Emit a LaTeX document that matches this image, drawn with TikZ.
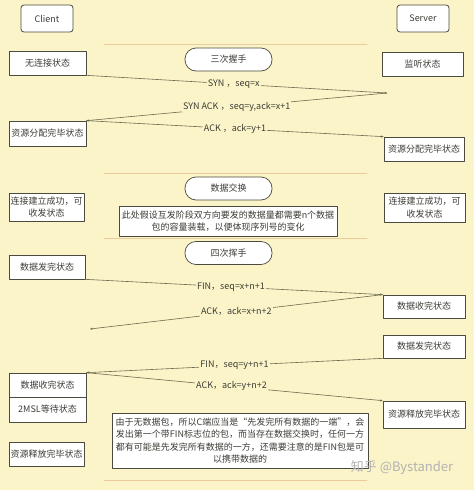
\documentclass[tikz,border=0pt]{standalone}
\usepackage{fontspec}
\setmainfont{Noto Sans CJK SC}
\usetikzlibrary{arrows.meta}
\definecolor{bg}{HTML}{FBF4C8}
\definecolor{sepline}{HTML}{E9CB9C}
\definecolor{boxline}{HTML}{4B4A3E}
\definecolor{msgline}{HTML}{6C6A4E}
\definecolor{ink}{HTML}{3C3C36}
\begin{document}
\begin{tikzpicture}[x=1pt,y=-1pt,line cap=round,line join=round,>={Stealth[length=2.5pt,width=2.2pt]},
  font=\fontsize{9}{12.5}\selectfont,text=ink,
  host/.style={draw=boxline,fill=white,line width=0.8pt,rounded corners=3pt,minimum width=52pt,minimum height=27pt},
  state/.style={draw=boxline,fill=white,line width=0.7pt,inner sep=1pt,align=center},
  phase/.style={draw=boxline,fill=white,line width=0.7pt,rounded corners=11pt,minimum width=87pt,minimum height=23pt},
  note/.style={draw=boxline,fill=white,line width=0.8pt,inner sep=2pt,align=center},
  msg/.style={fill=bg,inner sep=1pt},
  sepl/.style={draw=sepline,line width=0.8pt},
  conn/.style={draw=msgline,line width=0.6pt,->}]
\useasboundingbox[fill=bg] (0,0) rectangle (474,490);
% hosts
\node[host] (client) at (47,18.5) {Client};
\node[host] (server) at (423,18.5) {Server};
% phase separators
\draw[sepl] (104,44)--(367,44);
\draw[sepl] (104,173)--(367,173);
\draw[sepl] (104,238)--(367,238);
\draw[sepl] (104,480)--(367,480);
\node[phase] (hs3) at (228.5,59.5) {三次握手};
\node[phase] (xchg) at (228.5,188.5) {数据交换};
\node[phase] (wave4) at (228.5,253) {四次挥手};
% client states
\node[state,minimum width=77pt,minimum height=24pt] (c1) at (47.5,63) {无连接状态};
\node[state,minimum width=77pt,minimum height=25pt] (c2) at (47.5,133.5) {资源分配完毕状态};
\node[state,minimum width=75pt,minimum height=28pt,text width=73pt] (c3) at (46.5,207) {连接建立成功，可\\收发状态};
\node[state,minimum width=76pt,minimum height=24pt] (c4) at (47,267) {数据发完状态};
\node[state,minimum width=77pt,minimum height=24pt] (c5) at (47.5,385) {数据收完状态};
\node[state,minimum width=77pt,minimum height=25pt] (c6) at (47.5,409.5) {2MSL等待状态};
\node[state,minimum width=75pt,minimum height=24pt] (c7) at (46.5,454) {资源释放完毕状态};
% server states
\node[state,minimum width=81pt,minimum height=24pt] (s1) at (422.5,64) {监听状态};
\node[state,minimum width=80pt,minimum height=24pt] (s2) at (424,149) {资源分配完毕状态};
\node[state,minimum width=81pt,minimum height=29pt,text width=79pt] (s3) at (424.5,207.5) {连接建立成功，可\\收发状态};
\node[state,minimum width=82pt,minimum height=23pt] (s4) at (424,306.5) {数据收完状态};
\node[state,minimum width=82pt,minimum height=23pt] (s5) at (424,346.5) {数据发完状态};
\node[state,minimum width=82pt,minimum height=27pt] (s6) at (424,414.5) {资源释放完毕状态};
% free ends
\coordinate (synend) at (387,93);
\coordinate (ackend) at (90,329);
% handshake
\draw[conn] (c1.south east)--(synend) node[msg,pos=0.49]{SYN ，seq=x};
\draw[conn] (synend)--(c2.north east) node[msg,pos=0.5]{SYN ACK ，seq=y,ack=x+1};
\draw[conn] (c2.north east)--(s2.north west) node[msg,pos=0.5]{ACK ，ack=y+1};
% data
\node[note,minimum width=218pt,minimum height=30pt] (exinfo) at (228,221) {此处假设互发阶段双方向要发的数据量都需要n个数据\\包的容量装载，以便体现序列号的变化};
% wave
\draw[conn] (c4.south east)--(s4.north west) node[msg,pos=0.49]{FIN，seq=x+n+1};
\draw[conn] (s4.north west)--(ackend) node[msg,pos=0.5]{ACK，ack=x+n+2};
\draw[conn] (s5.south west)--(c5.north east) node[msg,pos=0.5]{FIN，seq=y+n+1};
\draw[conn] (c5.north east)--(s6.north west) node[msg,pos=0.49]{ACK，ack=y+n+2};
\node[note,minimum width=256pt,minimum height=55pt,text width=252pt] (fininfo) at (240,440.5) {由于无数据包，所以C端应当是“先发完所有数据的一端”，会\\发出第一个带FIN标志位的包，而当存在数据交换时，任何一方\\都有可能是先发完所有数据的一方，还需要注意的是FIN包是可\\以携带数据的};
\node[text=black!30,font=\fontsize{13}{15}\selectfont] (mark) at (402,468) {知乎 @Bystander};
\end{tikzpicture}
\end{document}
